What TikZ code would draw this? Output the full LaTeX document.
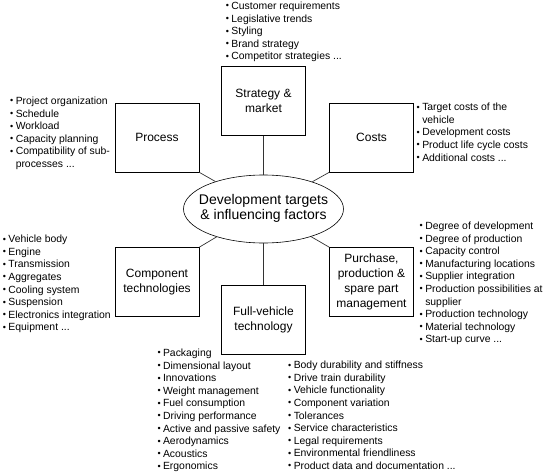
\documentclass[tikz,border=0pt]{standalone}
\usepackage{fontspec}
\setmainfont{Liberation Sans}
\usepackage{tikz}
\usetikzlibrary{shapes,positioning}

\newcommand{\itm}{\raisebox{0.6pt}{\fontsize{9}{9}\selectfont\textbullet}\hspace{2.4pt}}
\newcommand{\contd}{\hphantom{\itm}}

\tikzset{
  factor/.style={draw, line width=0.7pt, minimum width=84pt, minimum height=69pt, inner sep=0pt, align=center, font=\fontsize{12}{14.8}\selectfont},
  target/.style={draw, ellipse, line width=0.6pt, minimum width=160pt, minimum height=68pt, inner sep=0pt, font=\fontsize{14}{15.5}\selectfont},
  itemlist/.style={anchor=north west, inner sep=0pt, align=left, font=\fontsize{10.4}{12.6}\selectfont},
  link/.style={line width=0.7pt, black!80}
}

\begin{document}
\begin{tikzpicture}[x=1pt, y=-1pt]
    \useasboundingbox (0,0) rectangle (544,472);

    % Centre
    \node[target] (dev) at (263.5,209) {\makebox[80pt]{\begin{tabular}{@{}c@{}}Development targets\\ \& influencing factors\end{tabular}}};

    % Factors
    \node[factor] (market) at (263.5,101) {Strategy \&\\ market};
    \node[factor] (process) at (157,137.5) {Process};
    \node[factor] (costs) at (371.5,137.5) {Costs};
    \node[factor] (component) at (157,282) {Component\\ technologies};
    \node[factor] (full) at (263.5,320) {Full-vehicle\\ technology};
    \node[factor] (purchase) at (371.5,282) {Purchase,\\ production \&\\ spare part\\ management};

    % Connectors
    \draw[link] (market) -- (dev);
    \draw[link] (process.south east) -- (dev);
    \draw[link] (costs.south west) -- (dev);
    \draw[link] (component.north east) -- (dev);
    \draw[link] (full) -- (dev);
    \draw[link] (purchase.north west) -- (dev);

    % Lists
    \node[itemlist] (marketlist) at (225.7,1.7) {\itm Customer requirements\\ \itm Legislative trends\\ \itm Styling\\ \itm Brand strategy\\ \itm Competitor strategies ...};
    \node[itemlist] (processlist) at (10,96.7) {\itm Project organization\\ \itm Schedule\\ \itm Workload\\ \itm Capacity planning\\ \itm Compatibility of sub-\\ \contd processes ...};
    \node[itemlist] (costslist) at (416.5,103) {\itm Target costs of the\\ \contd vehicle\\ \itm Development costs\\ \itm Product life cycle costs\\ \itm Additional costs ...};
    \node[itemlist] (componentlist) at (2.7,235) {\itm Vehicle body\\ \itm Engine\\ \itm Transmission\\ \itm Aggregates\\ \itm Cooling system\\ \itm Suspension\\ \itm Electronics integration\\ \itm Equipment ...};
    \node[itemlist] (purchaselist) at (419.5,221.7) {\itm Degree of development\\ \itm Degree of production\\ \itm Capacity control\\ \itm Manufacturing locations\\ \itm Supplier integration\\ \itm Production possibilities at\\ \contd supplier\\ \itm Production technology\\ \itm Material technology\\ \itm Start-up curve ...};
    \node[itemlist] (fulllistA) at (157.3,348.7) {\itm Packaging\\ \itm Dimensional layout\\ \itm Innovations\\ \itm Weight management\\ \itm Fuel consumption\\ \itm Driving performance\\ \itm Active and passive safety\\ \itm Aerodynamics\\ \itm Acoustics\\ \itm Ergonomics};
    \node[itemlist] (fulllistB) at (288,361) {\itm Body durability and stiffness\\ \itm Drive train durability\\ \itm Vehicle functionality\\ \itm Component variation\\ \itm Tolerances\\ \itm Service characteristics\\ \itm Legal requirements\\ \itm Environmental friendliness\\ \itm Product data and documentation ...};
\end{tikzpicture}
\end{document}
